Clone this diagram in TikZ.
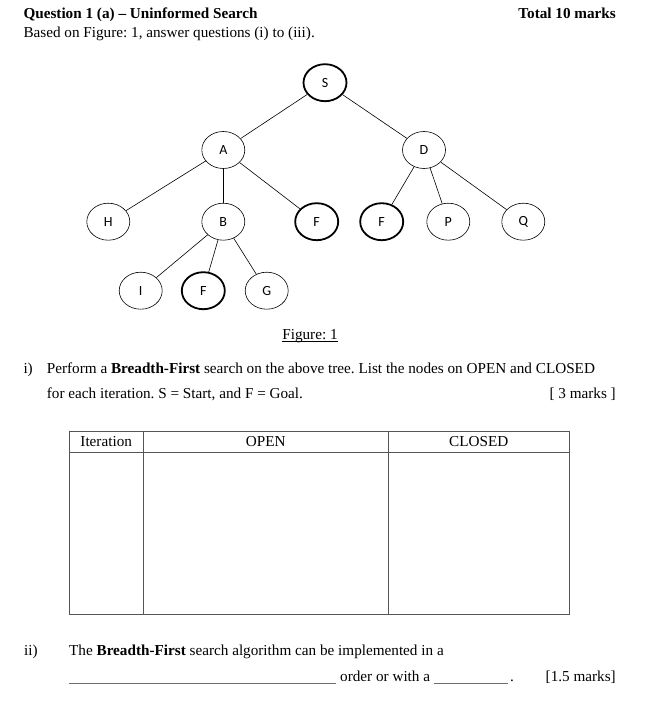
\documentclass[tikz,border=0pt]{standalone}
\usepackage{fontspec}
\usepackage{xcolor}
\setmainfont{Liberation Serif}
\newfontfamily\treefont{Carlito}
\usetikzlibrary{shapes.geometric}
\definecolor{rulegray}{HTML}{555555}
\definecolor{blankgray}{HTML}{6E6E6E}
\frenchspacing

\begin{document}
\begin{tikzpicture}[x=1pt,y=-1pt,
  txt/.style={inner sep=0pt,anchor=base west,font=\fontsize{15.2}{18}\selectfont},
  treenode/.style={ellipse,draw,line width=0.6pt,minimum width=43pt,minimum height=37pt,inner sep=0pt,font=\treefont\fontsize{14}{16}\selectfont},
  goalnode/.style={treenode,line width=1.8pt},
  branch/.style={line width=0.6pt},
  tablerule/.style={draw=rulegray,line width=0.9pt},
  blank/.style={draw=blankgray,line width=0.8pt}]
  \path[fill=white,use as bounding box] (0,0) rectangle (646,714);

  % heading
  \node[txt] (title) at (23.3,18.5) {\textbf{Question 1 (a) -- Uninformed Search}};
  \node[txt,anchor=base east] (total) at (616,18.5) {\textbf{Total 10 marks}};
  \node[txt] (intro) at (23.3,38) {Based on Figure: 1, answer questions (i) to (iii).};

  % tree
  \node[goalnode] (S) at (325,82.7) {S};
  \node[treenode] (A) at (223.3,150) {A};
  \node[treenode] (D) at (424,150) {D};
  \node[treenode] (H) at (108.3,221.7) {H};
  \node[treenode] (B) at (223.3,221.7) {B};
  \node[goalnode] (Fa) at (316.7,221.7) {F};
  \node[goalnode] (Fd) at (381.7,221.7) {F};
  \node[treenode] (P) at (448.3,221.7) {P};
  \node[treenode] (Q) at (523.3,221.7) {Q};
  \node[treenode] (I) at (140.7,290.7) {I};
  \node[goalnode] (Fb) at (203.3,290.7) {F};
  \node[treenode] (G) at (266.7,290.7) {G};

  \draw[branch] (S) -- (A);
  \draw[branch] (S) -- (D);
  \draw[branch] (A) -- (H);
  \draw[branch] (A) -- (B);
  \draw[branch] (A) -- (Fa);
  \draw[branch] (D) -- (Fd);
  \draw[branch] (D) -- (P);
  \draw[branch] (D) -- (Q);
  \draw[branch] (B) -- (I);
  \draw[branch] (B) -- (Fb);
  \draw[branch] (B) -- (G);

  % caption
  \node[txt,anchor=base] (cap) at (310,339) {Figure: 1};
  \draw[line width=0.7pt] ([yshift=-2pt]cap.base west) -- ([yshift=-2pt]cap.base east);

  % question i
  \node[txt] (qi) at (23.3,373.3) {i)};
  \node[txt] (qia) at (46.7,373.3) {Perform a \textbf{Breadth-First} search on the above tree. List the nodes on OPEN and CLOSED};
  \node[txt] (qib) at (46.7,398.3) {for each iteration. S = Start, and F = Goal.};
  \node[txt,anchor=base east] (qimk) at (616,398.3) {[ 3 marks ]};

  % table
  \draw[tablerule] (69,431.7) rectangle (569.3,614.3);
  \draw[tablerule] (69,452.7) -- (569.3,452.7);
  \draw[tablerule] (143.3,431.7) -- (143.3,614.3);
  \draw[tablerule] (388.3,431.7) -- (388.3,614.3);
  \node[txt,anchor=base] (hiter) at (106.2,446.5) {Iteration};
  \node[txt,anchor=base] (hopen) at (265.8,446.5) {OPEN};
  \node[txt,anchor=base] (hclosed) at (478.8,446.5) {CLOSED};

  % question ii
  \node[txt] (qii) at (24,655) {ii)};
  \node[txt] (qiia) at (69,655) {The \textbf{Breadth-First} search algorithm can be implemented in a};
  \coordinate (b1s) at (69,683.3);
  \node[txt] (qiib) at (340,681.7) {order or with a};
  \coordinate (b2e) at (508.3,683.3);
  \node[txt] (dot) at (510,681.7) {.};
  \node[txt,anchor=base east] (qiimk) at (616,681.7) {[1.5 marks]};
  \draw[blank] (b1s) -- ([xshift=-4pt]b1s -| qiib.west);
  \draw[blank] ([xshift=4pt]b2e -| qiib.east) -- (b2e);
\end{tikzpicture}
\end{document}
